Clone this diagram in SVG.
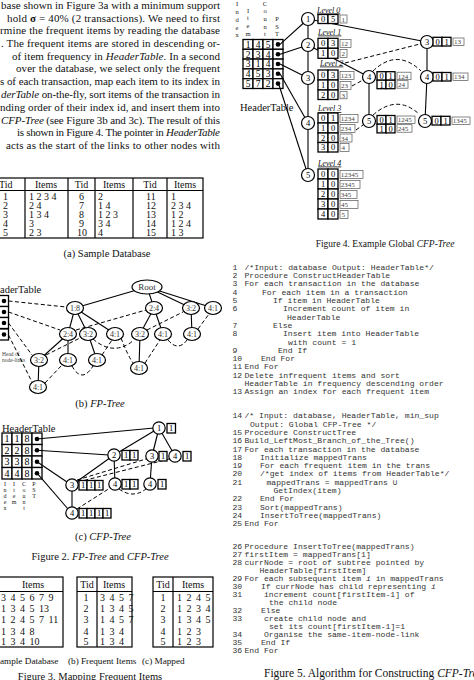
<svg xmlns="http://www.w3.org/2000/svg" width="474" height="680" viewBox="0 0 474 680">
<style>
.b{font-family:"Liberation Serif",serif;font-size:11px;fill:#111}
.c{font-family:"Liberation Serif",serif;font-size:10.5px;fill:#111}
.cm{font-family:"Liberation Serif",serif;font-size:10.5px;fill:#111;text-anchor:middle}
.tb{font-family:"Liberation Serif",serif;font-size:10px;fill:#111}
.tm{font-family:"Liberation Serif",serif;font-size:10px;fill:#111;text-anchor:middle}
.ws{word-spacing:2px}
.m{font-family:"Liberation Mono","DejaVu Sans Mono",monospace;font-size:8.1px;fill:#333}
.nl{font-family:"Liberation Serif",serif;font-size:8px;fill:#333;text-anchor:middle}
.ln{stroke:#000;stroke-width:1.1;fill:none}
.dl{stroke:#000;stroke-width:1;stroke-dasharray:4 2.5;fill:none}
.nd{fill:#fff;stroke:#000;stroke-width:1.2}
.bx{fill:#fff;stroke:#000;stroke-width:1.3}
.bt{fill:#fff;stroke:#555;stroke-width:0.7}
.tbl{fill:none;stroke:#000;stroke-width:1.2}
.g{font-family:"Liberation Serif",serif;font-size:8.5px;fill:#000;text-anchor:middle}
.gs{font-family:"Liberation Serif",serif;font-size:7px;fill:#444}
.v{font-family:"Liberation Serif",serif;font-size:6px;fill:#222;text-anchor:middle}
.lv{font-family:"Liberation Serif",serif;font-size:8px;font-style:italic;text-decoration:underline;fill:#111}
.sm{font-family:"Liberation Serif",serif;font-size:5.5px;fill:#444}
.cap3{font-family:"Liberation Serif",serif;font-size:9.2px;fill:#111}
.i{font-style:italic}
</style>
<rect width="474" height="680" fill="#fff"/>

<!-- body text -->
<g id="body-text">
<text class="b" x="1" y="9" textLength="219" lengthAdjust="spacing">base shown in Figure 3a with a minimum support</text>
<text class="b" x="7" y="21.6" textLength="213" lengthAdjust="spacing">hold <tspan font-weight="bold">σ</tspan> = 40% (2 transactions). We need to first</text>
<text class="b" x="0" y="34.3" textLength="220" lengthAdjust="spacing">rmine the frequent items by reading the database</text>
<text class="b" x="1" y="47" textLength="219" lengthAdjust="spacing">. The frequent items are stored in descending or-</text>
<text class="b" x="12" y="59.7" textLength="208" lengthAdjust="spacing">of item frequency in <tspan class="i">HeaderTable</tspan>. In a second</text>
<text class="b" x="16" y="72.4" textLength="204" lengthAdjust="spacing">over the database, we select only the frequent</text>
<text class="b" x="0" y="85.1" textLength="220" lengthAdjust="spacing">s of each transaction, map each item to its index in</text>
<text class="b" x="1" y="97.9" textLength="219" lengthAdjust="spacing"><tspan class="i">derTable</tspan> on-the-fly, sort items of the transaction in</text>
<text class="b" x="0" y="110.7" textLength="220" lengthAdjust="spacing">nding order of their index id, and insert them into</text>
<text class="b" x="1" y="123.5" textLength="219" lengthAdjust="spacing"><tspan class="i">CFP-Tree</tspan> (see Figure 3b and 3c). The result of this</text>
<text class="b" x="17" y="136.3" textLength="203" lengthAdjust="spacing">is shown in Figure 4. The pointer in <tspan class="i">HeaderTable</tspan></text>
<text class="b" x="6" y="149.1" textLength="214" lengthAdjust="spacing">acts as the start of the links to other nodes with</text>
</g>

<!-- Figure 2a table -->
<g id="table-sample-db">
<rect class="tbl" x="-1" y="178" width="204" height="60"/>
<line class="tbl" x1="-1" y1="190.5" x2="203" y2="190.5"/>
<line class="tbl" x1="25" y1="178" x2="25" y2="238"/>
<line class="tbl" x1="68" y1="178" x2="68" y2="238"/>
<line class="tbl" x1="95" y1="178" x2="95" y2="238"/>
<line class="tbl" x1="133" y1="178" x2="133" y2="238"/>
<line class="tbl" x1="167" y1="178" x2="167" y2="238"/>
<text class="tb" x="-1" y="187.5">Tid</text>
<text class="tm" x="46" y="187.5">Items</text>
<text class="tm" x="81.5" y="187.5">Tid</text>
<text class="tm" x="114" y="187.5">Items</text>
<text class="tm" x="150" y="187.5">Tid</text>
<text class="tm" x="185" y="187.5">Items</text>
<g class="tb">
<text x="3" y="199.5">1</text><text x="29" y="199.5">1 2 3 4</text><text x="79" y="199.5">6</text><text x="98" y="199.5">2</text><text x="146" y="199.5">11</text><text x="171" y="199.5">1</text>
<text x="3" y="208.8">2</text><text x="29" y="208.8">2 4</text><text x="79" y="208.8">7</text><text x="98" y="208.8">1 4</text><text x="146" y="208.8">12</text><text x="171" y="208.8">2 3 4</text>
<text x="3" y="218.1">3</text><text x="29" y="218.1">1 3 4</text><text x="79" y="218.1">8</text><text x="98" y="218.1">1 2 3</text><text x="146" y="218.1">13</text><text x="171" y="218.1">1 2</text>
<text x="3" y="227.4">4</text><text x="29" y="227.4">3</text><text x="79" y="227.4">9</text><text x="98" y="227.4">3 4</text><text x="146" y="227.4">14</text><text x="171" y="227.4">1 2 4</text>
<text x="3" y="236.4">5</text><text x="29" y="236.4">2 3</text><text x="77" y="236.4">10</text><text x="98" y="236.4">4</text><text x="146" y="236.4">15</text><text x="171" y="236.4">1 3</text>
</g>
<text class="cm" x="107" y="257">(a) Sample Database</text>
</g>

<!-- Figure 2b FP-tree -->
<g id="fp-header">
<text class="c" x="0" y="293">aderTable</text>
<rect class="bx" x="-3" y="295.5" width="11.5" height="11"/>
<rect class="bx" x="-3" y="306.5" width="11.5" height="11"/>
<rect class="bx" x="-3" y="317.5" width="11.5" height="11"/>
<rect class="bx" x="-3" y="329" width="11.5" height="11"/>
<circle cx="4" cy="301" r="2.3"/><circle cx="4" cy="312" r="2.3"/><circle cx="4" cy="323" r="2.3"/><circle cx="4" cy="334.5" r="2.3"/>
<text class="sm" x="2" y="356">Head of</text>
<text class="sm" x="2" y="361.5">node-links</text>
</g>
<g id="fp-connectors">
<line class="ln" x1="147" y1="287" x2="75" y2="308"/>
<line class="ln" x1="147" y1="287" x2="154" y2="308"/>
<line class="ln" x1="147" y1="287" x2="191" y2="308"/>
<line class="ln" x1="147" y1="287" x2="213" y2="308"/>
<line class="ln" x1="75" y1="308" x2="68" y2="334"/>
<line class="ln" x1="75" y1="308" x2="88" y2="334"/>
<line class="ln" x1="75" y1="308" x2="115" y2="334"/>
<line class="ln" x1="154" y1="308" x2="140" y2="334"/>
<line class="ln" x1="154" y1="308" x2="163" y2="334"/>
<line class="ln" x1="191" y1="308" x2="192" y2="334"/>
<line class="ln" x1="68" y1="334" x2="39" y2="360"/>
<line class="ln" x1="68" y1="334" x2="68" y2="360"/>
<line class="ln" x1="88" y1="334" x2="97" y2="360"/>
<line class="ln" x1="140" y1="334" x2="139" y2="368"/>
<line class="ln" x1="39" y1="360" x2="38" y2="387"/>
<path class="dl" d="M8.5,301 L66,307"/>
<path class="dl" d="M8.5,312 L60,330"/>
<path class="dl" d="M8.5,323 L32,355"/>
<path class="dl" d="M8.5,335 L32,382"/>
<path class="dl" d="M76,330 L146,310"/>
<path class="dl" d="M46,355 L80,338"/>
<path class="dl" d="M93,339 Q114,357 134,340"/>
<path class="dl" d="M147,330 L183,312"/>
<path class="dl" d="M45,383 L62,365"/>
<path class="dl" d="M72,366 Q82,384 93,366"/>
<path class="dl" d="M102,355 L112,340"/>
<path class="dl" d="M121,338 Q128,356 133,363"/>
<path class="dl" d="M145,363 L160,340"/>
<path class="dl" d="M168,340 Q178,352 187,340"/>
<path class="dl" d="M198,329 L209,314"/>
</g>
<g id="fp-root"><ellipse class="nd" cx="147" cy="287" rx="15" ry="7"/><text class="nl" x="147" y="290" style="font-size:9px">Root</text></g>
<g id="fp-n1"><ellipse class="nd" cx="75" cy="308" rx="8.5" ry="6.5"/><text class="nl" x="75" y="310.8">1:8</text></g>
<g id="fp-n2"><ellipse class="nd" cx="154" cy="308" rx="8.5" ry="6.5"/><text class="nl" x="154" y="310.8">2:4</text></g>
<g id="fp-n3"><ellipse class="nd" cx="191" cy="308" rx="8.5" ry="6.5"/><text class="nl" x="191" y="310.8">3:2</text></g>
<g id="fp-n4"><ellipse class="nd" cx="213" cy="308" rx="8.5" ry="6.5"/><text class="nl" x="213" y="310.8">4:1</text></g>
<g id="fp-n5"><ellipse class="nd" cx="68" cy="334" rx="8.5" ry="6.5"/><text class="nl" x="68" y="336.8">2:4</text></g>
<g id="fp-n6"><ellipse class="nd" cx="88" cy="334" rx="8.5" ry="6.5"/><text class="nl" x="88" y="336.8">3:2</text></g>
<g id="fp-n7"><ellipse class="nd" cx="115" cy="334" rx="8.5" ry="6.5"/><text class="nl" x="115" y="336.8">4:1</text></g>
<g id="fp-n8"><ellipse class="nd" cx="140" cy="334" rx="8.5" ry="6.5"/><text class="nl" x="140" y="336.8">3:2</text></g>
<g id="fp-n9"><ellipse class="nd" cx="163" cy="334" rx="8.5" ry="6.5"/><text class="nl" x="163" y="336.8">4:1</text></g>
<g id="fp-n10"><ellipse class="nd" cx="192" cy="334" rx="8.5" ry="6.5"/><text class="nl" x="192" y="336.8">4:1</text></g>
<g id="fp-n11"><ellipse class="nd" cx="39" cy="360" rx="8.5" ry="6.5"/><text class="nl" x="39" y="362.8">3:2</text></g>
<g id="fp-n12"><ellipse class="nd" cx="68" cy="360" rx="8.5" ry="6.5"/><text class="nl" x="68" y="362.8">4:1</text></g>
<g id="fp-n13"><ellipse class="nd" cx="97" cy="360" rx="8.5" ry="6.5"/><text class="nl" x="97" y="362.8">4:1</text></g>
<g id="fp-n14"><ellipse class="nd" cx="139" cy="368" rx="8.5" ry="6.5"/><text class="nl" x="139" y="370.8">4:1</text></g>
<g id="fp-n15"><ellipse class="nd" cx="38" cy="387" rx="8.5" ry="6.5"/><text class="nl" x="38" y="389.8">4:1</text></g>
<text class="cm" x="100" y="407">(b) <tspan class="i">FP-Tree</tspan></text>

<!-- Figure 2c CFP-tree -->
<g id="cfp-header">
<text class="c" x="2" y="431.5">HeaderTable</text>
<rect class="bx" x="2" y="433" width="10" height="11.5"/><rect class="bx" x="12" y="433" width="10" height="11.5"/><rect class="bx" x="22" y="433" width="10" height="11.5"/><rect class="bx" x="32" y="433" width="10" height="11.5"/>
<rect class="bx" x="2" y="444.5" width="10" height="11.5"/><rect class="bx" x="12" y="444.5" width="10" height="11.5"/><rect class="bx" x="22" y="444.5" width="10" height="11.5"/><rect class="bx" x="32" y="444.5" width="10" height="11.5"/>
<rect class="bx" x="2" y="456" width="10" height="11.5"/><rect class="bx" x="12" y="456" width="10" height="11.5"/><rect class="bx" x="22" y="456" width="10" height="11.5"/><rect class="bx" x="32" y="456" width="10" height="11.5"/>
<rect class="bx" x="2" y="467.5" width="10" height="11.5"/><rect class="bx" x="12" y="467.5" width="10" height="11.5"/><rect class="bx" x="22" y="467.5" width="10" height="11.5"/><rect class="bx" x="32" y="467.5" width="10" height="11.5"/>
<g class="g" style="font-size:10px">
<text x="7" y="442.3">1</text><text x="17" y="442.3">1</text><text x="27" y="442.3">8</text>
<text x="7" y="453.8">2</text><text x="17" y="453.8">2</text><text x="27" y="453.8">8</text>
<text x="7" y="465.3">3</text><text x="17" y="465.3">3</text><text x="27" y="465.3">8</text>
<text x="7" y="476.8">4</text><text x="17" y="476.8">4</text><text x="27" y="476.8">8</text>
</g>
<circle cx="37" cy="439" r="2.3"/><circle cx="37" cy="450.3" r="2.3"/><circle cx="37" cy="461.8" r="2.3"/><circle cx="37" cy="473.2" r="2.3"/>
<g class="v">
<text x="5" y="486">I</text><text x="5" y="492">n</text><text x="5" y="498">d</text><text x="5" y="504">e</text><text x="5" y="510">x</text>
<text x="14" y="486">I</text><text x="14" y="492">t</text><text x="14" y="498">e</text><text x="14" y="504">m</text>
<text x="24" y="486">C</text><text x="24" y="492">o</text><text x="24" y="498">u</text><text x="24" y="504">n</text><text x="24" y="510">t</text>
<text x="34" y="486">P</text><text x="34" y="492">S</text><text x="34" y="498">T</text>
</g>
</g>
<g id="cfp-connectors">
<line class="ln" x1="37" y1="439" x2="154" y2="428"/>
<line class="ln" x1="37" y1="450.3" x2="109" y2="455"/>
<line class="ln" x1="37" y1="461.8" x2="67" y2="482"/>
<line class="ln" x1="37" y1="473.2" x2="68" y2="509"/>
<line class="ln" x1="159" y1="428" x2="114" y2="455"/>
<line class="ln" x1="159" y1="428" x2="152" y2="456"/>
<line class="ln" x1="159" y1="428" x2="175" y2="456"/>
<line class="ln" x1="114" y1="455" x2="72" y2="485"/>
<line class="ln" x1="114" y1="455" x2="115" y2="484"/>
<line class="ln" x1="152" y1="456" x2="150" y2="484"/>
<line class="ln" x1="72" y1="485" x2="72" y2="513"/>
<path class="dl" d="M77,480 L146,459"/>
<path class="dl" d="M78,482 L169,459"/>
<path class="dl" d="M77,509 L110,488"/>
<path class="dl" d="M119,489 Q133,499 146,489"/>
</g>
<g id="cfp-n1"><circle class="nd" cx="159" cy="428" r="6.2"/><text class="g" x="159" y="431">1</text><rect class="bx" x="167" y="423.5" width="8.5" height="9.5"/><text class="g" x="171.2" y="431.3">1</text></g>
<g id="cfp-n2"><circle class="nd" cx="114" cy="455" r="6.2"/><text class="g" x="114" y="458">2</text><rect class="bx" x="122" y="450.5" width="8" height="9.5"/><rect class="bx" x="130" y="450.5" width="8" height="9.5"/><text class="g" x="126" y="458.3">1</text><text class="g" x="134" y="458.3">1</text></g>
<g id="cfp-n3"><circle class="nd" cx="152" cy="456" r="6.2"/><text class="g" x="152" y="459">3</text><rect class="bx" x="159" y="451.5" width="8" height="9.5"/><text class="g" x="163" y="459.3">1</text></g>
<g id="cfp-n4"><circle class="nd" cx="175" cy="456" r="6.2"/><text class="g" x="175" y="459">4</text><rect class="bx" x="183" y="451.5" width="8" height="9.5"/><text class="g" x="187" y="459.3">1</text></g>
<g id="cfp-n5"><circle class="nd" cx="72" cy="485" r="6.2"/><text class="g" x="72" y="488">3</text><rect class="bx" x="79" y="480.5" width="8" height="9.5"/><rect class="bx" x="87" y="480.5" width="8" height="9.5"/><rect class="bx" x="95" y="480.5" width="8" height="9.5"/><text class="g" x="83" y="488.3">1</text><text class="g" x="91" y="488.3">1</text><text class="g" x="99" y="488.3">1</text></g>
<g id="cfp-n6"><circle class="nd" cx="115" cy="484" r="6.2"/><text class="g" x="115" y="487">4</text><rect class="bx" x="122" y="479.5" width="8" height="9.5"/><rect class="bx" x="130" y="479.5" width="8" height="9.5"/><text class="g" x="126" y="487.3">1</text><text class="g" x="134" y="487.3">1</text></g>
<g id="cfp-n7"><circle class="nd" cx="150" cy="484" r="6.2"/><text class="g" x="150" y="487">4</text><rect class="bx" x="158" y="479.5" width="8" height="9.5"/><text class="g" x="162" y="487.3">1</text></g>
<g id="cfp-n8"><circle class="nd" cx="72" cy="513" r="6.2"/><text class="g" x="72" y="516">4</text><rect class="bx" x="79" y="508.5" width="8" height="9.5"/><rect class="bx" x="87" y="508.5" width="8" height="9.5"/><rect class="bx" x="95" y="508.5" width="8" height="9.5"/><rect class="bx" x="103" y="508.5" width="8" height="9.5"/><text class="g" x="83" y="516.3">1</text><text class="g" x="91" y="516.3">1</text><text class="g" x="99" y="516.3">1</text><text class="g" x="107" y="516.3">1</text></g>
<text class="cm" x="103" y="540">(c) <tspan class="i">CFP-Tree</tspan></text>
<text class="cm" x="100" y="560">Figure 2.  <tspan class="i">FP-Tree</tspan> and <tspan class="i">CFP-Tree</tspan></text>

<!-- Figure 3 tables -->
<g id="table-fig3a">
<rect class="tbl" x="-2" y="577" width="65" height="70"/>
<line class="tbl" x1="-2" y1="591.5" x2="63" y2="591.5"/>
<text class="tm" x="33" y="588">Items</text>
<g class="tb ws">
<text x="1" y="600.5">3 4 5 6 7 9</text>
<text x="1" y="612">1 3 4 5 13</text>
<text x="1" y="623">1 2 4 5 7 11</text>
<text x="1" y="634.5">1 3 4 8</text>
<text x="1" y="645">1 3 4 10</text>
</g>
</g>
<g id="table-fig3b">
<rect class="tbl" x="77" y="577" width="55" height="70"/>
<line class="tbl" x1="77" y1="591.5" x2="132" y2="591.5"/>
<line class="tbl" x1="97" y1="577" x2="97" y2="647"/>
<text class="tm" x="87" y="588">Tid</text><text class="tm" x="114" y="588">Items</text>
<g class="tm"><text x="86" y="600.5">1</text><text x="86" y="612">2</text><text x="86" y="623">3</text><text x="86" y="634.5">4</text><text x="86" y="645">5</text></g>
<g class="tb ws"><text x="100" y="600.5">3 4 5 7</text><text x="100" y="612">1 3 4 5</text><text x="100" y="623">1 4 5 7</text><text x="100" y="634.5">1 3 4</text><text x="100" y="645">1 3 4</text></g>
</g>
<g id="table-fig3c">
<rect class="tbl" x="153" y="577" width="60" height="70"/>
<line class="tbl" x1="153" y1="591.5" x2="213" y2="591.5"/>
<line class="tbl" x1="173" y1="577" x2="173" y2="647"/>
<text class="tm" x="163" y="588">Tid</text><text class="tm" x="193" y="588">Items</text>
<g class="tm"><text x="163" y="600.5">1</text><text x="163" y="612">2</text><text x="163" y="623">3</text><text x="163" y="634.5">4</text><text x="163" y="645">5</text></g>
<g class="tb ws"><text x="177" y="600.5">1 2 4 5</text><text x="177" y="612">1 2 3 4</text><text x="177" y="623">1 3 4 5</text><text x="177" y="634.5">1 2 3</text><text x="177" y="645">1 2 3</text></g>
</g>
<text class="cap3" x="0" y="664">ample Database</text>
<text class="cap3" x="68" y="664">(b) Frequent Items</text>
<text class="cap3" x="142" y="664">(c) Mapped</text>
<text class="cm" x="90" y="680">Figure 3.  Mapping Frequent Items</text>

<!-- Figure 4 -->
<g id="g4-header">
<g class="v" style="font-size:6.5px">
<text x="237" y="5.5">I</text><text x="237" y="13.5">n</text><text x="237" y="21.5">d</text><text x="237" y="29.5">e</text><text x="237" y="37">x</text>
<text x="248" y="12.5">I</text><text x="248" y="20">t</text><text x="248" y="28">e</text><text x="248" y="35.5">m</text>
<text x="265" y="5.5">C</text><text x="265" y="12.5">o</text><text x="265" y="20.5">u</text><text x="265" y="28.5">n</text><text x="265" y="35.5">t</text>
<text x="277" y="20.5">P</text><text x="277" y="28.5">S</text><text x="277" y="35.5">T</text>
</g>
<g>
<rect class="bx" x="243" y="39.5" width="10" height="9.8"/><rect class="bx" x="253" y="39.5" width="10" height="9.8"/><rect class="bx" x="263" y="39.5" width="10" height="9.8"/><rect class="bx" x="273" y="39.5" width="10" height="9.8"/>
<rect class="bx" x="243" y="49.3" width="10" height="9.8"/><rect class="bx" x="253" y="49.3" width="10" height="9.8"/><rect class="bx" x="263" y="49.3" width="10" height="9.8"/><rect class="bx" x="273" y="49.3" width="10" height="9.8"/>
<rect class="bx" x="243" y="59.1" width="10" height="9.8"/><rect class="bx" x="253" y="59.1" width="10" height="9.8"/><rect class="bx" x="263" y="59.1" width="10" height="9.8"/><rect class="bx" x="273" y="59.1" width="10" height="9.8"/>
<rect class="bx" x="243" y="68.9" width="10" height="9.8"/><rect class="bx" x="253" y="68.9" width="10" height="9.8"/><rect class="bx" x="263" y="68.9" width="10" height="9.8"/><rect class="bx" x="273" y="68.9" width="10" height="9.8"/>
<rect class="bx" x="243" y="78.7" width="10" height="9.8"/><rect class="bx" x="253" y="78.7" width="10" height="9.8"/><rect class="bx" x="263" y="78.7" width="10" height="9.8"/><rect class="bx" x="273" y="78.7" width="10" height="9.8"/>
</g>
<g class="g" style="font-size:9.5px">
<text x="248" y="47.7">1</text><text x="258" y="47.7">4</text><text x="268" y="47.7">5</text>
<text x="248" y="57.5">2</text><text x="258" y="57.5">3</text><text x="268" y="57.5">4</text>
<text x="248" y="67.3">3</text><text x="258" y="67.3">1</text><text x="268" y="67.3">4</text>
<text x="248" y="77.1">4</text><text x="258" y="77.1">5</text><text x="268" y="77.1">3</text>
<text x="248" y="86.9">5</text><text x="258" y="86.9">7</text><text x="268" y="86.9">2</text>
</g>
<circle cx="278" cy="44.4" r="2.3"/><circle cx="278" cy="54.2" r="2.3"/><circle cx="278" cy="64" r="2.3"/><circle cx="278" cy="73.8" r="2.3"/><circle cx="278" cy="83.6" r="2.3"/>
<text class="c" x="240" y="111">HeaderTable</text>
</g>
<g id="g4-connectors">
<line class="ln" x1="280" y1="44.4" x2="308" y2="19"/>
<line class="ln" x1="280" y1="54.2" x2="308" y2="45"/>
<line class="ln" x1="280" y1="64" x2="308" y2="78"/>
<line class="ln" x1="280" y1="73.8" x2="308" y2="123"/>
<line class="ln" x1="279" y1="85" x2="308" y2="175"/>
<line class="ln" x1="308" y1="19" x2="308" y2="175"/>
<line class="ln" x1="308" y1="19" x2="427" y2="42"/>
<line class="ln" x1="308" y1="45" x2="369" y2="77"/>
<line class="ln" x1="369" y1="77" x2="369" y2="121"/>
<line class="ln" x1="427" y1="42" x2="427" y2="77"/>
<line class="ln" x1="427" y1="77" x2="425" y2="121"/>
<path class="dl" d="M345,63 L420,44"/>
<path class="dl" d="M352,86 L363,80"/>
<path class="dl" d="M356,130 L363,125"/>
<path class="dl" d="M373,71 Q397,48 421,71"/>
<path class="dl" d="M373,115 Q397,94 419,114"/>
</g>
<g id="g4-node1"><circle class="nd" cx="308" cy="19" r="6.5"/><text class="g" x="308" y="22">1</text>
<text class="lv" x="317" y="12.5">Level 0</text>
<rect class="bx" x="318" y="14.5" width="10" height="9"/><rect class="bx" x="328" y="14.5" width="10" height="9"/><text class="g" x="323" y="22">0</text><text class="g" x="333" y="22">5</text>
<rect class="bt" x="340" y="15" width="7" height="8"/><text class="gs" x="341.5" y="21.7">1</text></g>
<g id="g4-node2"><circle class="nd" cx="308" cy="45" r="6.5"/><text class="g" x="308" y="48">2</text>
<text class="lv" x="318" y="34.5">Level 1</text>
<rect class="bx" x="318" y="38.3" width="10" height="10"/><rect class="bx" x="328" y="38.3" width="10" height="10"/><rect class="bx" x="318" y="48.3" width="10" height="10"/><rect class="bx" x="328" y="48.3" width="10" height="10"/>
<text class="g" x="323" y="46.3">0</text><text class="g" x="333" y="46.3">3</text><text class="g" x="323" y="56.3">1</text><text class="g" x="333" y="56.3">0</text>
<rect class="bt" x="340" y="39.5" width="11" height="8"/><text class="gs" x="341" y="46.2">12</text>
<rect class="bt" x="340" y="49.5" width="7" height="8"/><text class="gs" x="341.5" y="56.2">2</text></g>
<g id="g4-node3"><circle class="nd" cx="308" cy="78" r="6.5"/><text class="g" x="308" y="81">3</text>
<text class="lv" x="320" y="65.5">Level 2</text>
<rect class="bx" x="318" y="70" width="10" height="10"/><rect class="bx" x="328" y="70" width="10" height="10"/><rect class="bx" x="318" y="80" width="10" height="10"/><rect class="bx" x="328" y="80" width="10" height="10"/><rect class="bx" x="318" y="90" width="10" height="9.5"/><rect class="bx" x="328" y="90" width="10" height="9.5"/>
<text class="g" x="323" y="78">0</text><text class="g" x="333" y="78">3</text><text class="g" x="323" y="88">1</text><text class="g" x="333" y="88">0</text><text class="g" x="323" y="97.8">2</text><text class="g" x="333" y="97.8">0</text>
<rect class="bt" x="340" y="71.5" width="14" height="8"/><text class="gs" x="340.8" y="78.2">123</text>
<rect class="bt" x="340" y="81.5" width="11" height="8"/><text class="gs" x="341" y="88.2">23</text>
<rect class="bt" x="340" y="91.3" width="7" height="7.5"/><text class="gs" x="341.5" y="97.7">3</text></g>
<g id="g4-node4m"><circle class="nd" cx="369" cy="77" r="6.5"/><text class="g" x="369" y="80">4</text>
<rect class="bx" x="377" y="71.7" width="9" height="8.5"/><rect class="bx" x="386" y="71.7" width="9" height="8.5"/><rect class="bx" x="377" y="80.2" width="9" height="8.5"/><rect class="bx" x="386" y="80.2" width="9" height="8.5"/>
<text class="g" x="381.5" y="79">0</text><text class="g" x="390.5" y="79">1</text><text class="g" x="381.5" y="87.5">1</text><text class="g" x="390.5" y="87.5">0</text>
<rect class="bt" x="397" y="72.2" width="14" height="7.5"/><text class="gs" x="397.8" y="78.6">124</text>
<rect class="bt" x="397" y="80.7" width="11" height="7.5"/><text class="gs" x="398" y="87.1">24</text></g>
<g id="g4-node3r"><circle class="nd" cx="427" cy="42" r="6.5"/><text class="g" x="427" y="45">3</text>
<rect class="bx" x="433" y="37.3" width="9" height="8.7"/><rect class="bx" x="442" y="37.3" width="9" height="8.7"/><text class="g" x="437.5" y="44.7">0</text><text class="g" x="446.5" y="44.7">1</text>
<rect class="bt" x="453" y="38" width="11" height="7.5"/><text class="gs" x="454" y="44.4">13</text></g>
<g id="g4-node4r"><circle class="nd" cx="427" cy="77" r="6.5"/><text class="g" x="427" y="80">4</text>
<rect class="bx" x="433" y="72.5" width="9" height="8.5"/><rect class="bx" x="442" y="72.5" width="9" height="8.5"/><text class="g" x="437.5" y="79.8">0</text><text class="g" x="446.5" y="79.8">1</text>
<rect class="bt" x="453" y="73" width="15" height="7.5"/><text class="gs" x="454" y="79.4">134</text></g>
<g id="g4-node4l"><circle class="nd" cx="308" cy="123" r="6.5"/><text class="g" x="308" y="126">4</text>
<text class="lv" x="318" y="111">Level 3</text>
<rect class="bx" x="318" y="113" width="10" height="10"/><rect class="bx" x="328" y="113" width="10" height="10"/><rect class="bx" x="318" y="123" width="10" height="10"/><rect class="bx" x="328" y="123" width="10" height="10"/><rect class="bx" x="318" y="133" width="10" height="9.5"/><rect class="bx" x="328" y="133" width="10" height="9.5"/><rect class="bx" x="318" y="142.5" width="10" height="9.5"/><rect class="bx" x="328" y="142.5" width="10" height="9.5"/>
<text class="g" x="323" y="121">0</text><text class="g" x="333" y="121">1</text><text class="g" x="323" y="131">1</text><text class="g" x="333" y="131">0</text><text class="g" x="323" y="140.8">2</text><text class="g" x="333" y="140.8">0</text><text class="g" x="323" y="150.3">3</text><text class="g" x="333" y="150.3">0</text>
<rect class="bt" x="340" y="114.5" width="18" height="8"/><text class="gs" x="340.8" y="121.2">1234</text>
<rect class="bt" x="340" y="124.5" width="15" height="8"/><text class="gs" x="340.8" y="131.2">234</text>
<rect class="bt" x="340" y="134" width="12" height="8"/><text class="gs" x="341" y="140.7">34</text>
<rect class="bt" x="340" y="143.5" width="9" height="8"/><text class="gs" x="341.5" y="150.2">4</text></g>
<g id="g4-node5m"><circle class="nd" cx="369" cy="121" r="6.5"/><text class="g" x="369" y="124">5</text>
<rect class="bx" x="377" y="115.5" width="9" height="8.7"/><rect class="bx" x="386" y="115.5" width="9" height="8.7"/><rect class="bx" x="377" y="124.2" width="9" height="8.7"/><rect class="bx" x="386" y="124.2" width="9" height="8.7"/>
<text class="g" x="381.5" y="122.9">0</text><text class="g" x="390.5" y="122.9">1</text><text class="g" x="381.5" y="131.6">1</text><text class="g" x="390.5" y="131.6">0</text>
<rect class="bt" x="397" y="116" width="18" height="7.5"/><text class="gs" x="397.8" y="122.4">1245</text>
<rect class="bt" x="397" y="124.7" width="15" height="7.5"/><text class="gs" x="397.8" y="131.1">245</text></g>
<g id="g4-node5r"><circle class="nd" cx="425" cy="121" r="6.5"/><text class="g" x="425" y="124">5</text>
<rect class="bx" x="432" y="116.3" width="9" height="8.7"/><rect class="bx" x="441" y="116.3" width="9" height="8.7"/><text class="g" x="436.5" y="123.7">0</text><text class="g" x="445.5" y="123.7">1</text>
<rect class="bt" x="452" y="117" width="18" height="7.5"/><text class="gs" x="452.8" y="123.4">1345</text></g>
<g id="g4-node5l"><circle class="nd" cx="308" cy="175" r="6.5"/><text class="g" x="308" y="178">5</text>
<text class="lv" x="318" y="165.5">Level 4</text>
<rect class="bx" x="318" y="169" width="10" height="10"/><rect class="bx" x="328" y="169" width="10" height="10"/><rect class="bx" x="318" y="179" width="10" height="10"/><rect class="bx" x="328" y="179" width="10" height="10"/><rect class="bx" x="318" y="189" width="10" height="10"/><rect class="bx" x="328" y="189" width="10" height="10"/><rect class="bx" x="318" y="199" width="10" height="10"/><rect class="bx" x="328" y="199" width="10" height="10"/><rect class="bx" x="318" y="209" width="10" height="10"/><rect class="bx" x="328" y="209" width="10" height="10"/>
<text class="g" x="323" y="177">0</text><text class="g" x="333" y="177">0</text><text class="g" x="323" y="187">1</text><text class="g" x="333" y="187">0</text><text class="g" x="323" y="197">2</text><text class="g" x="333" y="197">0</text><text class="g" x="323" y="207">3</text><text class="g" x="333" y="207">0</text><text class="g" x="323" y="217">4</text><text class="g" x="333" y="217">0</text>
<rect class="bt" x="340" y="170.5" width="23" height="8"/><text class="gs" x="340.8" y="177.2">12345</text>
<rect class="bt" x="340" y="180.5" width="20" height="8"/><text class="gs" x="340.8" y="187.2">2345</text>
<rect class="bt" x="340" y="190.5" width="17" height="8"/><text class="gs" x="340.8" y="197.2">345</text>
<rect class="bt" x="340" y="200.5" width="18" height="8"/><text class="gs" x="341" y="207.2">45</text>
<rect class="bt" x="340" y="210.5" width="8" height="8"/><text class="gs" x="341.5" y="217.2">5</text></g>
<text class="cm" x="385" y="247" style="font-size:9.5px">Figure 4.  Example Global <tspan class="i">CFP-Tree</tspan></text>

<!-- Figure 5 code -->
<g id="code" class="m">
<text x="232.5" y="269.8">1</text><text x="244.5" y="269.8">/*Input: database Output: HeaderTable*/</text>
<text x="232.5" y="278.1">2</text><text x="244.5" y="278.1">Procedure ConstructHeaderTable</text>
<text x="232.5" y="286.4">3</text><text x="244.5" y="286.4">For each transaction in the database</text>
<text x="232.5" y="294.7">4</text><text x="262" y="294.7">For each item in a transaction</text>
<text x="232.5" y="303">5</text><text x="273" y="303">If item in HeaderTable</text>
<text x="232.5" y="311.3">6</text><text x="283" y="311.3">Increment count of item in</text>
<text x="287" y="319.6">HeaderTable</text>
<text x="232.5" y="327.9">7</text><text x="273" y="327.9">Else</text>
<text x="232.5" y="336.2">8</text><text x="283" y="336.2">Insert item into HeaderTable</text>
<text x="288" y="344.5">with count = 1</text>
<text x="232.5" y="352.8">9</text><text x="278" y="352.8">End If</text>
<text x="232.5" y="361.1">10</text><text x="261" y="361.1">End For</text>
<text x="232.5" y="369.4">11</text><text x="244.5" y="369.4">End For</text>
<text x="232.5" y="377.7">12</text><text x="244.5" y="377.7">Delete infrequent items and sort</text>
<text x="244.5" y="386">HeaderTable in frequency descending order</text>
<text x="232.5" y="394.3">13</text><text x="244.5" y="394.3">Assign an index for each frequent item</text>
<text x="232.5" y="418.3">14</text><text x="244.5" y="418.3">/* Input: database, HeaderTable, min_sup</text>
<text x="250" y="426.6">Output: Global CFP-Tree */</text>
<text x="232.5" y="434.9">15</text><text x="244.5" y="434.9">Procedure ConstructTree</text>
<text x="232.5" y="443.2">16</text><text x="244.5" y="443.2">Build_LeftMost_Branch_of_the_Tree()</text>
<text x="232.5" y="451.5">17</text><text x="244.5" y="451.5">For each transaction in the database</text>
<text x="232.5" y="459.8">18</text><text x="260" y="459.8">Initialize mappedTrans</text>
<text x="232.5" y="468.1">19</text><text x="260" y="468.1">For each frequent item in the trans</text>
<text x="232.5" y="476.4">20</text><text x="260" y="476.4">/*get index of items from HeaderTable*/</text>
<text x="232.5" y="484.7">21</text><text x="266.5" y="484.7">mappedTrans = mappedTrans ∪</text>
<text x="273.5" y="493">GetIndex(item)</text>
<text x="232.5" y="501.3">22</text><text x="260" y="501.3">End For</text>
<text x="232.5" y="509.6">23</text><text x="260" y="509.6">Sort(mappedTrans)</text>
<text x="232.5" y="517.9">24</text><text x="260" y="517.9">InsertToTree(mappedTrans)</text>
<text x="232.5" y="526.2">25</text><text x="244.5" y="526.2">End For</text>
<text x="232.5" y="548.8">26</text><text x="244.5" y="548.8">Procedure InsertToTree(mappedTrans)</text>
<text x="232.5" y="556.8">27</text><text x="244.5" y="556.8">firstItem = mappedTrans[1]</text>
<text x="232.5" y="564.8">28</text><text x="244.5" y="564.8">currNode = root of subtree pointed by</text>
<text x="259.5" y="572.8">HeaderTable[firstItem]</text>
<text x="232.5" y="580.8">29</text><text x="244.5" y="580.8">For each subsequent item <tspan class="i">i</tspan> in mappedTrans</text>
<text x="232.5" y="588.8">30</text><text x="261" y="588.8">If currNode has child representing <tspan class="i">i</tspan></text>
<text x="232.5" y="596.8">31</text><text x="264" y="596.8">increment count[firstItem-1] of</text>
<text x="269" y="604.8">the child node</text>
<text x="232.5" y="612.8">32</text><text x="261" y="612.8">Else</text>
<text x="232.5" y="620.8">33</text><text x="264" y="620.8">create child node and</text>
<text x="269" y="628.8">set its count[firstItem-1]=1</text>
<text x="232.5" y="636.8">34</text><text x="264" y="636.8">Organise the same-item-node-link</text>
<text x="232.5" y="644.8">35</text><text x="261" y="644.8">End If</text>
<text x="232.5" y="652.8">36</text><text x="244.5" y="652.8">End For</text>
</g>
<text class="c" x="264" y="677" style="font-size:11.5px">Figure 5.  Algorithm for Constructing <tspan class="i">CFP-Tree</tspan></text>
</svg>
